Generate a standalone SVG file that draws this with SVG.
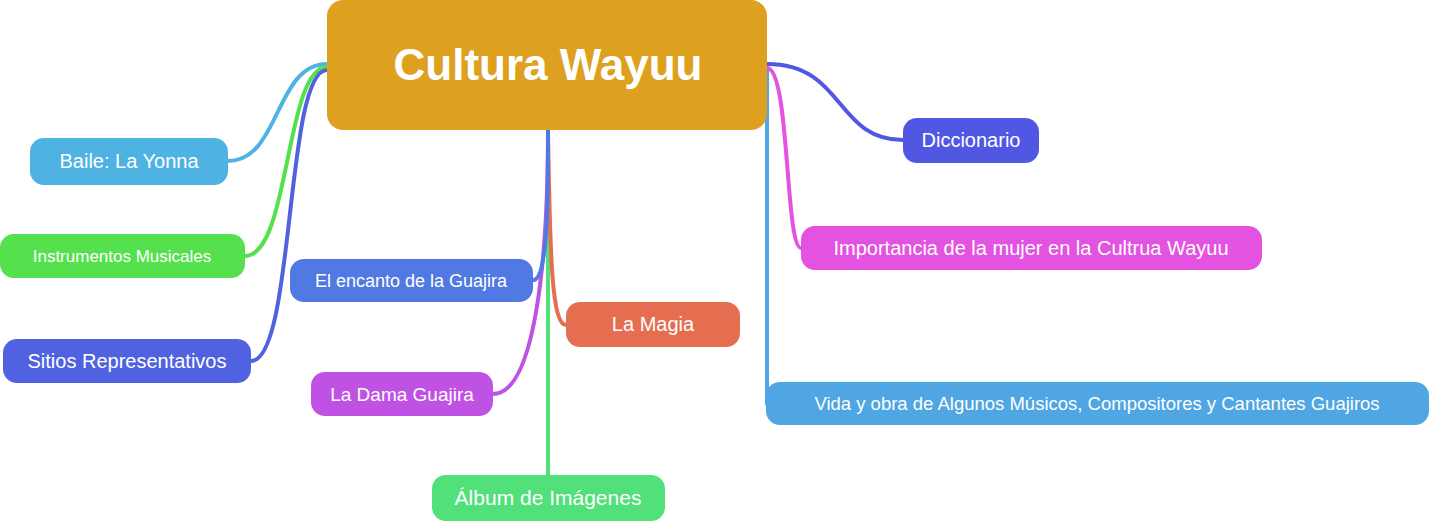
<svg xmlns="http://www.w3.org/2000/svg" width="1429" height="522" viewBox="0 0 1429 522">
<style>
.c{fill:none;stroke-width:4;stroke-linecap:round}
.t{font-family:"Liberation Sans",Arial,sans-serif;fill:#fff;text-anchor:middle}
</style>
<rect width="1429" height="522" fill="#fff"/>
<g id="connectors">
<path class="c" stroke="#4EB3E3" d="M327,64 C275,64 280,161 228,161"/>
<path class="c" stroke="#55E04D" d="M327,67 C285,67 290,256 245,256"/>
<path class="c" stroke="#5062E0" d="M327,70 C285,70 295,361 251,361"/>
<path class="c" stroke="#C052E3" d="M548,130 C548,260 535,394 493,394"/>
<path class="c" stroke="#52E07A" d="M548,130 L548,476"/>
<path class="c" stroke="#E56E50" d="M548,130 C550,260 552,325 566,325"/>
<path class="c" stroke="#5079E3" stroke-width="6" d="M548,130 C548,200 548,280 533,280"/>
<path class="c" stroke="#4FA6E3" d="M767,70 L767,404"/>
<path class="c" stroke="#E352E0" d="M767,68 C790,68 785,248 801,248"/>
<path class="c" stroke="#5058E3" stroke-width="5" d="M767,64 C845,64 835,140 903,140"/>
</g>
<g id="central"><rect x="327" y="0" width="440" height="130" rx="16" fill="#DDA11F"/><text class="t" x="548" y="80" font-size="44" font-weight="bold">Cultura Wayuu</text></g>
<g id="baile"><rect x="30" y="138" width="198" height="47" rx="14" fill="#4EB3E3"/><text class="t" x="129" y="168" font-size="20">Baile: La Yonna</text></g>
<g id="instrumentos"><rect x="0" y="234" width="245" height="44" rx="14" fill="#55E04D"/><text class="t" x="122" y="262" font-size="17">Instrumentos Musicales</text></g>
<g id="sitios"><rect x="3" y="339" width="248" height="44" rx="14" fill="#5062E0"/><text class="t" x="127" y="368" font-size="20">Sitios Representativos</text></g>
<g id="encanto"><rect x="290" y="259" width="243" height="43" rx="14" fill="#5079E3"/><text class="t" x="411" y="287" font-size="18">El encanto de la Guajira</text></g>
<g id="dama"><rect x="311" y="372" width="182" height="44" rx="14" fill="#C052E3"/><text class="t" x="402" y="401" font-size="19">La Dama Guajira</text></g>
<g id="album"><rect x="432" y="475" width="233" height="46" rx="14" fill="#52E07A"/><text class="t" x="548" y="505" font-size="21">Álbum de Imágenes</text></g>
<g id="magia"><rect x="566" y="302" width="174" height="45" rx="14" fill="#E56E50"/><text class="t" x="653" y="331" font-size="20">La Magia</text></g>
<g id="diccionario"><rect x="903" y="118" width="136" height="45" rx="14" fill="#5058E3"/><text class="t" x="971" y="147" font-size="20">Diccionario</text></g>
<g id="importancia"><rect x="801" y="226" width="461" height="44" rx="14" fill="#E352E0"/><text class="t" x="1031" y="255" font-size="20">Importancia de la mujer en la Cultrua Wayuu</text></g>
<g id="vida"><rect x="766" y="382" width="663" height="43" rx="14" fill="#4FA6E3"/><text class="t" x="1097" y="410" font-size="18.5">Vida y obra de Algunos Músicos, Compositores y Cantantes Guajiros</text></g>
</svg>
